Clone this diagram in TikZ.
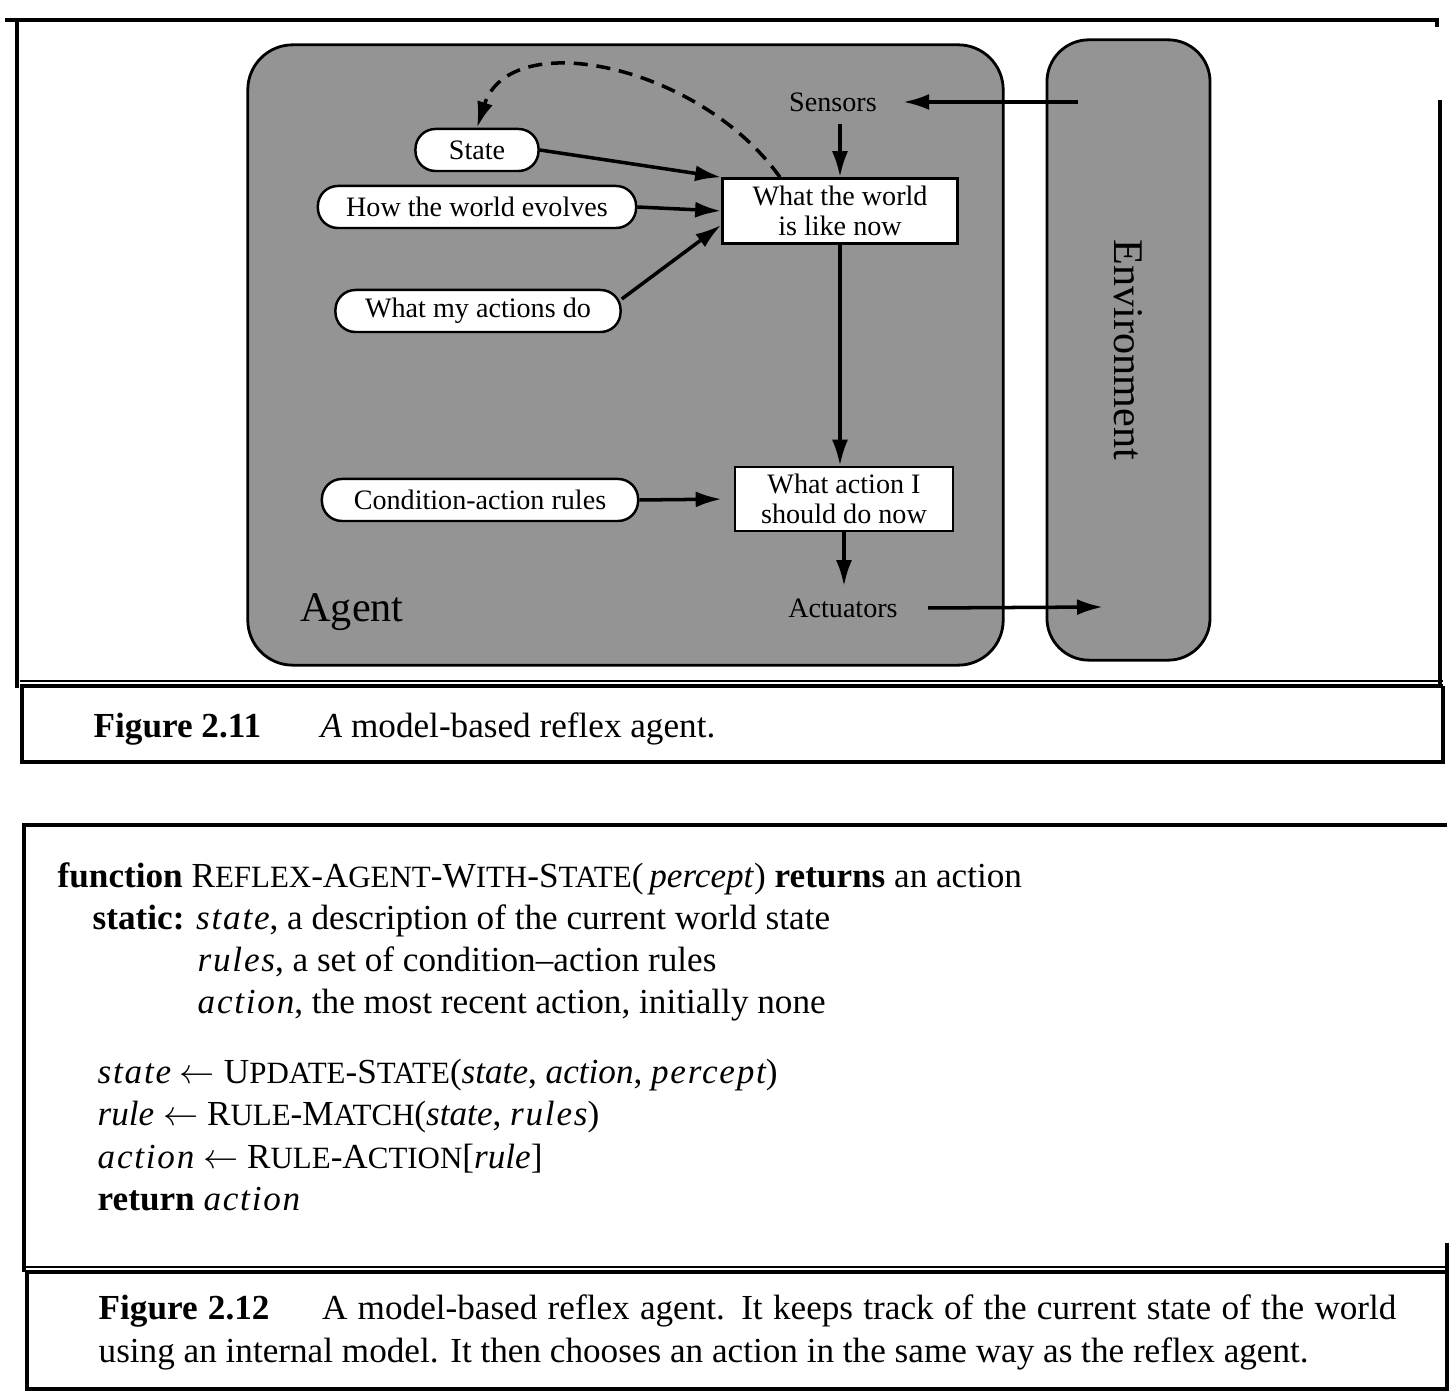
\documentclass[tikz,border=0pt]{standalone}
\usepackage{fontspec}
\setmainfont{Liberation Serif}
\usepackage{tikz}
\usetikzlibrary{arrows.meta, calc}

\newcommand{\smc}[1]{{\fontsize{8.8}{10}\selectfont #1}}
\newcommand{\svar}[1]{{\itshape\addfontfeature{LetterSpace=5}#1}}

\begin{document}
\begin{tikzpicture}[
  x=0.01cm, y=-0.01cm,
  every node/.style={font=\fontsize{8}{9.6}\selectfont},
  pill/.style={draw, fill=white, rounded corners=0.2cm, line width=0.7pt, minimum height=0.42cm, inner sep=2pt},
  box/.style={draw, fill=white, line width=0.7pt, align=center, minimum width=2.35cm, minimum height=0.65cm, inner sep=1pt, font=\fontsize{8}{8.4}\selectfont},
  shade/.style={draw, fill=black!42, line width=0.8pt},
  arrow/.style={-{Latex[length=2.6mm, width=1.6mm]}, line width=1pt},
  dasharrow/.style={arrow, dash pattern=on 4pt off 2.5pt},
  rule/.style={line width=1pt},
  thinrule/.style={line width=0.5pt},
  caption/.style={font=\fontsize{10}{12}\selectfont, anchor=base west, inner sep=0pt},
  code/.style={font=\fontsize{10}{12}\selectfont, anchor=base west, inner sep=0pt}
]
\useasboundingbox (0,0) rectangle (1456,1398);

% frames of the two figures
\draw[rule] (5,20) -- (1437,20) -- (1437,27);
\draw[rule] (17,22) -- (17,688);
\draw[rule] (1440,100) -- (1440,688);
\draw[thinrule] (20,681) -- (1443,681);
\draw[rule] (20,686) -- (1443,686);
\draw[rule] (22,686) -- (22,762) -- (1443,762) -- (1443,686);

\draw[rule] (22,825) -- (1447,825);
\draw[rule] (24,825) -- (24,1272);
\draw[thinrule] (25,1267) -- (1447,1267);
\draw[rule] (25,1272) -- (1447,1272);
\draw[rule] (27,1272) -- (27,1389) -- (1447,1389) -- (1447,1243);

% agent and environment
\node[shade, rounded corners=0.45cm, minimum width=7.55cm, minimum height=6.2cm] (agent) at (625.5,355) {};
\node[shade, rounded corners=0.42cm, minimum width=1.63cm, minimum height=6.2cm] (env) at (1128.5,350) {};

\node[font=\fontsize{12}{14}\selectfont] (agentlabel) at (352,612) {Agent};
\node[font=\fontsize{12}{14}\selectfont, rotate=-90] (envlabel) at (1128,350) {Environment};
\node (sensors) at (833,102) {Sensors};
\node (actuators) at (843,608) {Actuators};

\node[pill, minimum width=1.23cm] (state) at (477,150) {State};
\node[pill, minimum width=3.18cm] (evolves) at (477,207) {How the world evolves};
\node[pill, minimum width=2.85cm] (actions) at (478,311) {What my actions do};
\node[pill, minimum width=3.16cm] (rules) at (480,500) {Condition-action rules};

\node[box] (world) at (840,211) {What the world\\is like now};
\node[box, minimum width=2.18cm, minimum height=0.64cm] (decide) at (844,499) {What action I\\should do now};

\coordinate (envin) at (1078,102);
\coordinate (envout) at (1103,607);

\draw[arrow] (envin) -- ([xshift=0.14cm]sensors.east);
\draw[arrow] (sensors.south -| world.north) -- (world.north);
\draw[arrow] (state.east) -- (world.north west);
\draw[arrow] (evolves.east) -- (world.west);
\draw[arrow] ([yshift=0.12cm]actions.east) -- ([yshift=-0.14cm]world.west);
\draw[dasharrow] ([xshift=-0.6cm]world.north) .. controls (700,65) and (510,25) .. (state.north);
\draw[arrow] (world.south) -- (world.south |- decide.north);
\draw[arrow, shorten >=0.12cm] (rules.east) -- (decide.west);
\draw[arrow] (decide.south) -- (decide.south |- actuators.north);
\draw[arrow] ([xshift=0.18cm]actuators.east) -- (envout);

\node[caption] (fig11) at (93,738) {\textbf{Figure 2.11}};
\node[caption] (cap11) at (320,738) {\textit{A} model-based reflex agent.};

% the agent program
\node[code] (fn) at (57,888) {\textbf{function} R\smc{EFLEX}-A\smc{GENT}-W\smc{ITH}-S\smc{TATE}(\,\textit{percept}) \textbf{returns} an action};
\node[code] (static) at (92,930) {\textbf{static:} \svar{state}, a description of the current world state};
\node[code] (rulesvar) at (197,972) {\svar{rules}, a set of condition--action rules};
\node[code] (actionvar) at (197,1014) {\svar{action}, the most recent action, initially none};
\node[code] (upd) at (97,1084) {\svar{state} $\leftarrow$ U\smc{PDATE}-S\smc{TATE}(\textit{state}, \textit{action}, \svar{percept})};
\node[code] (match) at (97,1126) {\textit{rule} $\leftarrow$ R\smc{ULE}-M\smc{ATCH}(\textit{state}, \svar{rules})};
\node[code] (act) at (97,1169) {\svar{action} $\leftarrow$ R\smc{ULE}-A\smc{CTION}[\textit{rule}]};
\node[code] (ret) at (97,1211) {\textbf{return} \svar{action}};

\node[caption, text width=12.97cm, align=justify] (cap12) at (98,1320)
{\textbf{Figure 2.12}\hspace{1.2em} A model-based reflex agent. It keeps track of the current state of the world using an internal model. It then chooses an action in the same way as the reflex agent.};

\end{tikzpicture}
\end{document}
